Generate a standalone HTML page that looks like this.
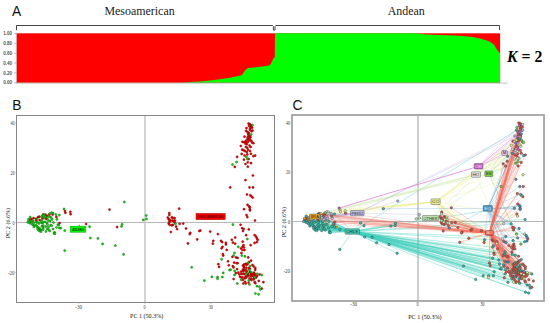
<!DOCTYPE html>
<html><head><meta charset="utf-8"><style>
html,body{margin:0;padding:0;background:#fff;width:550px;height:323px;overflow:hidden;font-family:"Liberation Sans",sans-serif;}
svg{display:block;}
</style></head><body>
<svg width="550" height="323" viewBox="0 0 550 323" font-family="Liberation Sans, sans-serif"><rect x="16.5" y="33.3" width="483.6" height="49.5" fill="#ff0000"/>
<polygon fill="#00ff00" points="176,82.8 185,82.5 190,82.1 200,81.5 210,80.5 220,79.3 230,77.7 238,76.1 242,75 243.5,72.5 246,69.5 248,68 256,67.2 268,65.8 270.5,64.6 272.3,61 273,59 274,57.5 274.8,57.5 275,33.3 414,33.3 427,34.4 440,35 454.5,35.6 465,36.3 472.7,37.1 480,38.5 487.3,40.7 489.8,41.7 491,42.5 494.5,45.3 495.2,47 498.4,51.4 500.1,53.6 500.1,82.8"/>
<line x1="16.3" y1="33" x2="16.3" y2="83" stroke="#c8c8c8" stroke-width="0.6"/>
<line x1="16" y1="83.1" x2="507.5" y2="83.1" stroke="#b0b0b0" stroke-width="0.8"/>
<line x1="14.2" y1="33.4" x2="16.5" y2="33.4" stroke="#888" stroke-width="0.6"/>
<text x="12.2" y="35" text-anchor="end" font-size="4.6" fill="#555" font-weight="bold">1.00</text>
<line x1="14.2" y1="43.3" x2="16.5" y2="43.3" stroke="#888" stroke-width="0.6"/>
<text x="12.2" y="44.9" text-anchor="end" font-size="4.6" fill="#555" font-weight="bold">0.80</text>
<line x1="14.2" y1="53.2" x2="16.5" y2="53.2" stroke="#888" stroke-width="0.6"/>
<text x="12.2" y="54.8" text-anchor="end" font-size="4.6" fill="#555" font-weight="bold">0.60</text>
<line x1="14.2" y1="63" x2="16.5" y2="63" stroke="#888" stroke-width="0.6"/>
<text x="12.2" y="64.6" text-anchor="end" font-size="4.6" fill="#555" font-weight="bold">0.40</text>
<line x1="14.2" y1="72.9" x2="16.5" y2="72.9" stroke="#888" stroke-width="0.6"/>
<text x="12.2" y="74.5" text-anchor="end" font-size="4.6" fill="#555" font-weight="bold">0.20</text>
<line x1="14.2" y1="82.8" x2="16.5" y2="82.8" stroke="#888" stroke-width="0.6"/>
<text x="12.2" y="84.4" text-anchor="end" font-size="4.6" fill="#555" font-weight="bold">0.00</text>
<path d="M16.5,30.2 V25.5 H272.6 L273.4,26.6 V30 Q274.2,30.8 275,30 V26.6 L275.8,25.5 H499.5 V30" fill="none" stroke="#3a3a3a" stroke-width="0.95"/>
<text x="104.4" y="15.2" font-family="Liberation Serif" font-size="11.95" fill="#222">Mesoamerican</text>
<text x="387.7" y="15.2" font-family="Liberation Serif" font-size="11.95" fill="#222">Andean</text>
<text x="507" y="61.8" font-family="Liberation Serif" font-size="15.8" font-weight="bold" fill="#000"><tspan font-style="italic">K</tspan> = 2</text>
<text x="12" y="15.5" font-size="13.8" fill="#111">A</text>
<text x="12.2" y="109.7" font-size="13.8" fill="#111">B</text>
<text x="292.6" y="109.9" font-size="13.8" fill="#111">C</text>
<line x1="16.5" y1="222.5" x2="274.5" y2="222.5" stroke="#b8b8b8" stroke-width="1.2"/>
<line x1="145" y1="115.5" x2="145" y2="302.5" stroke="#cacaca" stroke-width="1.6"/>
<rect x="16.5" y="115.5" width="258" height="187" fill="none" stroke="#858585" stroke-width="1"/>
<text x="78.7" y="308.9" text-anchor="middle" font-family="Liberation Serif" font-size="6.2" fill="#444" textLength="6.8" lengthAdjust="spacingAndGlyphs">-30</text>
<line x1="78.7" y1="302.5" x2="78.7" y2="303.8" stroke="#999" stroke-width="0.5"/>
<text x="144.6" y="308.9" text-anchor="middle" font-family="Liberation Serif" font-size="6.2" fill="#444" textLength="2.1" lengthAdjust="spacingAndGlyphs">0</text>
<line x1="144.6" y1="302.5" x2="144.6" y2="303.8" stroke="#999" stroke-width="0.5"/>
<text x="210.8" y="308.9" text-anchor="middle" font-family="Liberation Serif" font-size="6.2" fill="#444" textLength="4.2" lengthAdjust="spacingAndGlyphs">30</text>
<line x1="210.8" y1="302.5" x2="210.8" y2="303.8" stroke="#999" stroke-width="0.5"/>
<text x="14.6" y="125" text-anchor="end" font-family="Liberation Serif" font-size="6.2" fill="#444" textLength="4.1" lengthAdjust="spacingAndGlyphs">40</text>
<line x1="15.1" y1="122.9" x2="16.5" y2="122.9" stroke="#999" stroke-width="0.5"/>
<text x="14.6" y="174.9" text-anchor="end" font-family="Liberation Serif" font-size="6.2" fill="#444" textLength="4.1" lengthAdjust="spacingAndGlyphs">20</text>
<line x1="15.1" y1="172.8" x2="16.5" y2="172.8" stroke="#999" stroke-width="0.5"/>
<text x="14.6" y="224.7" text-anchor="end" font-family="Liberation Serif" font-size="6.2" fill="#444" textLength="2.1" lengthAdjust="spacingAndGlyphs">0</text>
<line x1="15.1" y1="222.6" x2="16.5" y2="222.6" stroke="#999" stroke-width="0.5"/>
<text x="14.6" y="274.7" text-anchor="end" font-family="Liberation Serif" font-size="6.2" fill="#444" textLength="6.7" lengthAdjust="spacingAndGlyphs">-20</text>
<line x1="15.1" y1="272.6" x2="16.5" y2="272.6" stroke="#999" stroke-width="0.5"/>
<text x="130" y="317.6" font-family="Liberation Serif" font-size="6.1" fill="#111">PC 1 (50.3%)</text>
<text transform="translate(10.3,223) rotate(-90)" text-anchor="middle" font-family="Liberation Serif" font-size="6.1" fill="#111">PC 2 (6.6%)</text>
<line x1="292" y1="221.5" x2="544" y2="221.5" stroke="#b8b8b8" stroke-width="1.1"/>
<line x1="418" y1="115" x2="418" y2="301" stroke="#cacaca" stroke-width="1.8"/>
<rect x="292" y="115" width="252" height="186" fill="none" stroke="#a4a4a4" stroke-width="1.8"/>
<text x="353.6" y="306.2" text-anchor="middle" font-family="Liberation Serif" font-size="6.2" fill="#444" textLength="6.8" lengthAdjust="spacingAndGlyphs">-30</text>
<line x1="353.6" y1="301" x2="353.6" y2="302.3" stroke="#999" stroke-width="0.5"/>
<text x="417.6" y="306.2" text-anchor="middle" font-family="Liberation Serif" font-size="6.2" fill="#444" textLength="2.1" lengthAdjust="spacingAndGlyphs">0</text>
<line x1="417.6" y1="301" x2="417.6" y2="302.3" stroke="#999" stroke-width="0.5"/>
<text x="482.3" y="306.2" text-anchor="middle" font-family="Liberation Serif" font-size="6.2" fill="#444" textLength="4.2" lengthAdjust="spacingAndGlyphs">30</text>
<line x1="482.3" y1="301" x2="482.3" y2="302.3" stroke="#999" stroke-width="0.5"/>
<text x="290.1" y="124.7" text-anchor="end" font-family="Liberation Serif" font-size="6.2" fill="#444" textLength="4.1" lengthAdjust="spacingAndGlyphs">40</text>
<line x1="290.6" y1="122.6" x2="292" y2="122.6" stroke="#999" stroke-width="0.5"/>
<text x="290.1" y="174.3" text-anchor="end" font-family="Liberation Serif" font-size="6.2" fill="#444" textLength="4.1" lengthAdjust="spacingAndGlyphs">20</text>
<line x1="290.6" y1="172.2" x2="292" y2="172.2" stroke="#999" stroke-width="0.5"/>
<text x="290.1" y="223.6" text-anchor="end" font-family="Liberation Serif" font-size="6.2" fill="#444" textLength="2.1" lengthAdjust="spacingAndGlyphs">0</text>
<line x1="290.6" y1="221.5" x2="292" y2="221.5" stroke="#999" stroke-width="0.5"/>
<text x="290.1" y="273.4" text-anchor="end" font-family="Liberation Serif" font-size="6.2" fill="#444" textLength="6.7" lengthAdjust="spacingAndGlyphs">-20</text>
<line x1="290.6" y1="271.3" x2="292" y2="271.3" stroke="#999" stroke-width="0.5"/>
<text x="408.2" y="319" font-family="Liberation Serif" font-size="6.1" fill="#111">PC 1 (50.3%)</text>
<text transform="translate(285.8,222) rotate(-90)" text-anchor="middle" font-family="Liberation Serif" font-size="6.1" fill="#111">PC 2 (6.6%)</text>
<g stroke-width="0.45">
<circle cx="29.8" cy="219.7" r="1.08" fill="#e40000" stroke="#880000"/>
<circle cx="31.5" cy="219.1" r="1.08" fill="#e40000" stroke="#880000"/>
<circle cx="35.8" cy="218.8" r="1.08" fill="#e40000" stroke="#880000"/>
<circle cx="36.3" cy="220.6" r="1.08" fill="#e40000" stroke="#880000"/>
<circle cx="38" cy="217.1" r="1.08" fill="#e40000" stroke="#880000"/>
<circle cx="39.3" cy="216.7" r="1.08" fill="#e40000" stroke="#880000"/>
<circle cx="39.7" cy="220.1" r="1.08" fill="#e40000" stroke="#880000"/>
<circle cx="43.2" cy="214.5" r="1.08" fill="#e40000" stroke="#880000"/>
<circle cx="42.7" cy="218.4" r="1.08" fill="#e40000" stroke="#880000"/>
<circle cx="45.4" cy="214.6" r="1.08" fill="#e40000" stroke="#880000"/>
<circle cx="46.3" cy="218.9" r="1.08" fill="#e40000" stroke="#880000"/>
<circle cx="49.2" cy="214.6" r="1.08" fill="#e40000" stroke="#880000"/>
<circle cx="52.6" cy="214.6" r="1.08" fill="#e40000" stroke="#880000"/>
<circle cx="56.4" cy="217" r="1.08" fill="#e40000" stroke="#880000"/>
<circle cx="59.6" cy="223.1" r="1.08" fill="#e40000" stroke="#880000"/>
<circle cx="65" cy="211" r="1.08" fill="#e40000" stroke="#880000"/>
<circle cx="65.4" cy="212.8" r="1.08" fill="#e40000" stroke="#880000"/>
<circle cx="70.3" cy="211.8" r="1.08" fill="#e40000" stroke="#880000"/>
<circle cx="70.6" cy="214.2" r="1.08" fill="#e40000" stroke="#880000"/>
<circle cx="47" cy="215.8" r="1.08" fill="#e40000" stroke="#880000"/>
<circle cx="33.5" cy="218.2" r="1.08" fill="#e40000" stroke="#880000"/>
<circle cx="109.5" cy="209.6" r="1.08" fill="#e40000" stroke="#880000"/>
<circle cx="86.1" cy="224" r="1.08" fill="#e40000" stroke="#880000"/>
<circle cx="117.1" cy="227.1" r="1.08" fill="#e40000" stroke="#880000"/>
<circle cx="179.2" cy="208.7" r="1.08" fill="#e40000" stroke="#880000"/>
<circle cx="169.3" cy="213" r="1.08" fill="#e40000" stroke="#880000"/>
<circle cx="169.3" cy="214.9" r="1.08" fill="#e40000" stroke="#880000"/>
<circle cx="168.7" cy="219.2" r="1.08" fill="#e40000" stroke="#880000"/>
<circle cx="169.9" cy="219.9" r="1.08" fill="#e40000" stroke="#880000"/>
<circle cx="169.3" cy="221.7" r="1.08" fill="#e40000" stroke="#880000"/>
<circle cx="168.7" cy="223.6" r="1.08" fill="#e40000" stroke="#880000"/>
<circle cx="169.7" cy="224.8" r="1.08" fill="#e40000" stroke="#880000"/>
<circle cx="171.8" cy="217.4" r="1.08" fill="#e40000" stroke="#880000"/>
<circle cx="173" cy="218" r="1.08" fill="#e40000" stroke="#880000"/>
<circle cx="172.4" cy="220.5" r="1.08" fill="#e40000" stroke="#880000"/>
<circle cx="173.6" cy="221.1" r="1.08" fill="#e40000" stroke="#880000"/>
<circle cx="174.6" cy="218" r="1.08" fill="#e40000" stroke="#880000"/>
<circle cx="174.9" cy="220.5" r="1.08" fill="#e40000" stroke="#880000"/>
<circle cx="174.6" cy="222.3" r="1.08" fill="#e40000" stroke="#880000"/>
<circle cx="171.8" cy="225.4" r="1.08" fill="#e40000" stroke="#880000"/>
<circle cx="173" cy="224.8" r="1.08" fill="#e40000" stroke="#880000"/>
<circle cx="176.1" cy="226.7" r="1.08" fill="#e40000" stroke="#880000"/>
<circle cx="177.1" cy="229.1" r="1.08" fill="#e40000" stroke="#880000"/>
<circle cx="179.6" cy="223.8" r="1.08" fill="#e40000" stroke="#880000"/>
<circle cx="183.2" cy="223.6" r="1.08" fill="#e40000" stroke="#880000"/>
<circle cx="170.9" cy="232" r="1.08" fill="#e40000" stroke="#880000"/>
<circle cx="186" cy="228.5" r="1.08" fill="#e40000" stroke="#880000"/>
<circle cx="190.3" cy="232.9" r="1.08" fill="#e40000" stroke="#880000"/>
<circle cx="189.7" cy="234.1" r="1.08" fill="#e40000" stroke="#880000"/>
<circle cx="197.2" cy="239.4" r="1.08" fill="#e40000" stroke="#880000"/>
<circle cx="187.9" cy="243.4" r="1.08" fill="#e40000" stroke="#880000"/>
<circle cx="199.4" cy="231" r="1.08" fill="#e40000" stroke="#880000"/>
<circle cx="170.5" cy="221" r="1.08" fill="#e40000" stroke="#880000"/>
<circle cx="167.8" cy="217.5" r="1.08" fill="#e40000" stroke="#880000"/>
<circle cx="248.5" cy="123.6" r="1.08" fill="#e40000" stroke="#880000"/>
<circle cx="249.7" cy="124" r="1.08" fill="#e40000" stroke="#880000"/>
<circle cx="250.9" cy="125.2" r="1.08" fill="#e40000" stroke="#880000"/>
<circle cx="251.3" cy="126.5" r="1.08" fill="#e40000" stroke="#880000"/>
<circle cx="250.5" cy="127.3" r="1.08" fill="#e40000" stroke="#880000"/>
<circle cx="246.5" cy="128.1" r="1.08" fill="#e40000" stroke="#880000"/>
<circle cx="252.1" cy="127.7" r="1.08" fill="#e40000" stroke="#880000"/>
<circle cx="250.1" cy="128.9" r="1.08" fill="#e40000" stroke="#880000"/>
<circle cx="246.1" cy="130.9" r="1.08" fill="#e40000" stroke="#880000"/>
<circle cx="252.5" cy="130.5" r="1.08" fill="#e40000" stroke="#880000"/>
<circle cx="251.7" cy="131.3" r="1.08" fill="#e40000" stroke="#880000"/>
<circle cx="248.9" cy="132.9" r="1.08" fill="#e40000" stroke="#880000"/>
<circle cx="248.1" cy="134.1" r="1.08" fill="#e40000" stroke="#880000"/>
<circle cx="249.7" cy="135.7" r="1.08" fill="#e40000" stroke="#880000"/>
<circle cx="248.5" cy="136.1" r="1.08" fill="#e40000" stroke="#880000"/>
<circle cx="250.5" cy="137.3" r="1.08" fill="#e40000" stroke="#880000"/>
<circle cx="249.3" cy="137.7" r="1.08" fill="#e40000" stroke="#880000"/>
<circle cx="247.7" cy="137.3" r="1.08" fill="#e40000" stroke="#880000"/>
<circle cx="244.5" cy="136.7" r="1.08" fill="#e40000" stroke="#880000"/>
<circle cx="247.3" cy="139.3" r="1.08" fill="#e40000" stroke="#880000"/>
<circle cx="248.9" cy="139.7" r="1.08" fill="#e40000" stroke="#880000"/>
<circle cx="250.1" cy="140.1" r="1.08" fill="#e40000" stroke="#880000"/>
<circle cx="251.3" cy="140.9" r="1.08" fill="#e40000" stroke="#880000"/>
<circle cx="242.4" cy="141.8" r="1.08" fill="#e40000" stroke="#880000"/>
<circle cx="244" cy="142.2" r="1.08" fill="#e40000" stroke="#880000"/>
<circle cx="246.1" cy="142.2" r="1.08" fill="#e40000" stroke="#880000"/>
<circle cx="248.1" cy="141.8" r="1.08" fill="#e40000" stroke="#880000"/>
<circle cx="252.1" cy="142.6" r="1.08" fill="#e40000" stroke="#880000"/>
<circle cx="245.9" cy="140.9" r="1.08" fill="#e40000" stroke="#880000"/>
<circle cx="253.4" cy="143.2" r="1.08" fill="#e40000" stroke="#880000"/>
<circle cx="245.5" cy="143.7" r="1.08" fill="#e40000" stroke="#880000"/>
<circle cx="246.9" cy="144.2" r="1.08" fill="#e40000" stroke="#880000"/>
<circle cx="240.8" cy="146" r="1.08" fill="#e40000" stroke="#880000"/>
<circle cx="245.9" cy="147" r="1.08" fill="#e40000" stroke="#880000"/>
<circle cx="247.3" cy="147.9" r="1.08" fill="#e40000" stroke="#880000"/>
<circle cx="250.6" cy="147" r="1.08" fill="#e40000" stroke="#880000"/>
<circle cx="242.2" cy="149.7" r="1.08" fill="#e40000" stroke="#880000"/>
<circle cx="243.6" cy="150.2" r="1.08" fill="#e40000" stroke="#880000"/>
<circle cx="245" cy="151.1" r="1.08" fill="#e40000" stroke="#880000"/>
<circle cx="246.9" cy="152.1" r="1.08" fill="#e40000" stroke="#880000"/>
<circle cx="250.1" cy="151.1" r="1.08" fill="#e40000" stroke="#880000"/>
<circle cx="241.7" cy="153.9" r="1.08" fill="#e40000" stroke="#880000"/>
<circle cx="247.3" cy="154.4" r="1.08" fill="#e40000" stroke="#880000"/>
<circle cx="251" cy="153.9" r="1.08" fill="#e40000" stroke="#880000"/>
<circle cx="253.4" cy="156.2" r="1.08" fill="#e40000" stroke="#880000"/>
<circle cx="255.2" cy="155.6" r="1.08" fill="#e40000" stroke="#880000"/>
<circle cx="237.1" cy="156.9" r="1.08" fill="#e40000" stroke="#880000"/>
<circle cx="248.7" cy="159" r="1.08" fill="#e40000" stroke="#880000"/>
<circle cx="243.9" cy="159.7" r="1.08" fill="#e40000" stroke="#880000"/>
<circle cx="247.8" cy="162.3" r="1.08" fill="#e40000" stroke="#880000"/>
<circle cx="251" cy="163.2" r="1.08" fill="#e40000" stroke="#880000"/>
<circle cx="245.5" cy="164" r="1.08" fill="#e40000" stroke="#880000"/>
<circle cx="234.8" cy="166.9" r="1.08" fill="#e40000" stroke="#880000"/>
<circle cx="247.8" cy="166.7" r="1.08" fill="#e40000" stroke="#880000"/>
<circle cx="252.9" cy="175.5" r="1.08" fill="#e40000" stroke="#880000"/>
<circle cx="245.5" cy="180.1" r="1.08" fill="#e40000" stroke="#880000"/>
<circle cx="230.2" cy="187.4" r="1.08" fill="#e40000" stroke="#880000"/>
<circle cx="249.5" cy="187.4" r="1.08" fill="#e40000" stroke="#880000"/>
<circle cx="253" cy="187.4" r="1.08" fill="#e40000" stroke="#880000"/>
<circle cx="247" cy="194.5" r="1.08" fill="#e40000" stroke="#880000"/>
<circle cx="250.3" cy="195.3" r="1.08" fill="#e40000" stroke="#880000"/>
<circle cx="251.3" cy="196.3" r="1.08" fill="#e40000" stroke="#880000"/>
<circle cx="252.7" cy="197.6" r="1.08" fill="#e40000" stroke="#880000"/>
<circle cx="247.5" cy="204.8" r="1.08" fill="#e40000" stroke="#880000"/>
<circle cx="249" cy="206.4" r="1.08" fill="#e40000" stroke="#880000"/>
<circle cx="249.8" cy="207.2" r="1.08" fill="#e40000" stroke="#880000"/>
<circle cx="244" cy="209.2" r="1.08" fill="#e40000" stroke="#880000"/>
<circle cx="249.8" cy="209.2" r="1.08" fill="#e40000" stroke="#880000"/>
<circle cx="249" cy="126" r="1.08" fill="#e40000" stroke="#880000"/>
<circle cx="247.5" cy="132" r="1.08" fill="#e40000" stroke="#880000"/>
<circle cx="250" cy="130" r="1.08" fill="#e40000" stroke="#880000"/>
<circle cx="249.5" cy="145.5" r="1.08" fill="#e40000" stroke="#880000"/>
<circle cx="248" cy="150" r="1.08" fill="#e40000" stroke="#880000"/>
<circle cx="244.5" cy="155.5" r="1.08" fill="#e40000" stroke="#880000"/>
<circle cx="249.9" cy="210.4" r="1.08" fill="#e40000" stroke="#880000"/>
<circle cx="246.5" cy="215" r="1.08" fill="#e40000" stroke="#880000"/>
<circle cx="247.3" cy="217.1" r="1.08" fill="#e40000" stroke="#880000"/>
<circle cx="255" cy="220.5" r="1.08" fill="#e40000" stroke="#880000"/>
<circle cx="240.6" cy="224.8" r="1.08" fill="#e40000" stroke="#880000"/>
<circle cx="242.2" cy="228.2" r="1.08" fill="#e40000" stroke="#880000"/>
<circle cx="243.7" cy="229" r="1.08" fill="#e40000" stroke="#880000"/>
<circle cx="243" cy="231" r="1.08" fill="#e40000" stroke="#880000"/>
<circle cx="248.8" cy="229.4" r="1.08" fill="#e40000" stroke="#880000"/>
<circle cx="200.4" cy="230.5" r="1.08" fill="#e40000" stroke="#880000"/>
<circle cx="210.2" cy="231.6" r="1.08" fill="#e40000" stroke="#880000"/>
<circle cx="217.9" cy="234.1" r="1.08" fill="#e40000" stroke="#880000"/>
<circle cx="246.1" cy="235.2" r="1.08" fill="#e40000" stroke="#880000"/>
<circle cx="254.6" cy="235.2" r="1.08" fill="#e40000" stroke="#880000"/>
<circle cx="256.1" cy="236.7" r="1.08" fill="#e40000" stroke="#880000"/>
<circle cx="256.9" cy="238.3" r="1.08" fill="#e40000" stroke="#880000"/>
<circle cx="257.7" cy="239.8" r="1.08" fill="#e40000" stroke="#880000"/>
<circle cx="235.2" cy="237.5" r="1.08" fill="#e40000" stroke="#880000"/>
<circle cx="213.3" cy="240.9" r="1.08" fill="#e40000" stroke="#880000"/>
<circle cx="212.8" cy="243.7" r="1.08" fill="#e40000" stroke="#880000"/>
<circle cx="221" cy="240.9" r="1.08" fill="#e40000" stroke="#880000"/>
<circle cx="222.1" cy="242.1" r="1.08" fill="#e40000" stroke="#880000"/>
<circle cx="225.9" cy="242.9" r="1.08" fill="#e40000" stroke="#880000"/>
<circle cx="225.9" cy="244.5" r="1.08" fill="#e40000" stroke="#880000"/>
<circle cx="231.8" cy="239.8" r="1.08" fill="#e40000" stroke="#880000"/>
<circle cx="232.9" cy="242.6" r="1.08" fill="#e40000" stroke="#880000"/>
<circle cx="235.2" cy="243.7" r="1.08" fill="#e40000" stroke="#880000"/>
<circle cx="242.7" cy="241.7" r="1.08" fill="#e40000" stroke="#880000"/>
<circle cx="254.6" cy="242.9" r="1.08" fill="#e40000" stroke="#880000"/>
<circle cx="256.9" cy="242.1" r="1.08" fill="#e40000" stroke="#880000"/>
<circle cx="250.7" cy="245.2" r="1.08" fill="#e40000" stroke="#880000"/>
<circle cx="243.5" cy="245.2" r="1.08" fill="#e40000" stroke="#880000"/>
<circle cx="242.5" cy="246.8" r="1.08" fill="#e40000" stroke="#880000"/>
<circle cx="244" cy="247.5" r="1.08" fill="#e40000" stroke="#880000"/>
<circle cx="241" cy="248.5" r="1.08" fill="#e40000" stroke="#880000"/>
<circle cx="242.5" cy="250" r="1.08" fill="#e40000" stroke="#880000"/>
<circle cx="244.5" cy="250" r="1.08" fill="#e40000" stroke="#880000"/>
<circle cx="222.5" cy="246.8" r="1.08" fill="#e40000" stroke="#880000"/>
<circle cx="221.6" cy="248.3" r="1.08" fill="#e40000" stroke="#880000"/>
<circle cx="226.7" cy="249.9" r="1.08" fill="#e40000" stroke="#880000"/>
<circle cx="222.9" cy="254.2" r="1.08" fill="#e40000" stroke="#880000"/>
<circle cx="241.4" cy="253" r="1.08" fill="#e40000" stroke="#880000"/>
<circle cx="223.2" cy="255.6" r="1.08" fill="#e40000" stroke="#880000"/>
<circle cx="228" cy="261.3" r="1.08" fill="#e40000" stroke="#880000"/>
<circle cx="218.3" cy="264.2" r="1.08" fill="#e40000" stroke="#880000"/>
<circle cx="219.1" cy="266.9" r="1.08" fill="#e40000" stroke="#880000"/>
<circle cx="228.8" cy="265.3" r="1.08" fill="#e40000" stroke="#880000"/>
<circle cx="233.6" cy="279" r="1.08" fill="#e40000" stroke="#880000"/>
<circle cx="243.3" cy="283.5" r="1.08" fill="#e40000" stroke="#880000"/>
<circle cx="245.7" cy="283.5" r="1.08" fill="#e40000" stroke="#880000"/>
<circle cx="261.8" cy="288.6" r="1.08" fill="#e40000" stroke="#880000"/>
<circle cx="263.4" cy="282.2" r="1.08" fill="#e40000" stroke="#880000"/>
<circle cx="232.4" cy="256.8" r="1.08" fill="#e40000" stroke="#880000"/>
<circle cx="235.9" cy="257.4" r="1.08" fill="#e40000" stroke="#880000"/>
<circle cx="237.6" cy="257.9" r="1.08" fill="#e40000" stroke="#880000"/>
<circle cx="248.2" cy="257.4" r="1.08" fill="#e40000" stroke="#880000"/>
<circle cx="234.1" cy="262.6" r="1.08" fill="#e40000" stroke="#880000"/>
<circle cx="236.5" cy="263.2" r="1.08" fill="#e40000" stroke="#880000"/>
<circle cx="237.6" cy="263.2" r="1.08" fill="#e40000" stroke="#880000"/>
<circle cx="232.9" cy="266.2" r="1.08" fill="#e40000" stroke="#880000"/>
<circle cx="233.5" cy="267.4" r="1.08" fill="#e40000" stroke="#880000"/>
<circle cx="237.1" cy="269.1" r="1.08" fill="#e40000" stroke="#880000"/>
<circle cx="242.9" cy="265.6" r="1.08" fill="#e40000" stroke="#880000"/>
<circle cx="244.1" cy="264.4" r="1.08" fill="#e40000" stroke="#880000"/>
<circle cx="245.9" cy="263.8" r="1.08" fill="#e40000" stroke="#880000"/>
<circle cx="255.3" cy="268" r="1.08" fill="#e40000" stroke="#880000"/>
<circle cx="235.9" cy="273.2" r="1.08" fill="#e40000" stroke="#880000"/>
<circle cx="238.2" cy="272.6" r="1.08" fill="#e40000" stroke="#880000"/>
<circle cx="239.4" cy="274.4" r="1.08" fill="#e40000" stroke="#880000"/>
<circle cx="240" cy="276.8" r="1.08" fill="#e40000" stroke="#880000"/>
<circle cx="254.7" cy="282.1" r="1.08" fill="#e40000" stroke="#880000"/>
<circle cx="255.3" cy="283.2" r="1.08" fill="#e40000" stroke="#880000"/>
<circle cx="258.8" cy="280.9" r="1.08" fill="#e40000" stroke="#880000"/>
<circle cx="248.2" cy="275.5" r="1.08" fill="#e40000" stroke="#880000"/>
<circle cx="246.7" cy="270.7" r="1.08" fill="#e40000" stroke="#880000"/>
<circle cx="243.2" cy="271.3" r="1.08" fill="#e40000" stroke="#880000"/>
<circle cx="255.1" cy="275" r="1.08" fill="#e40000" stroke="#880000"/>
<circle cx="254.4" cy="273.9" r="1.08" fill="#e40000" stroke="#880000"/>
<circle cx="250.9" cy="273.6" r="1.08" fill="#e40000" stroke="#880000"/>
<circle cx="241.6" cy="277.5" r="1.08" fill="#e40000" stroke="#880000"/>
<circle cx="252.1" cy="275.4" r="1.08" fill="#e40000" stroke="#880000"/>
<circle cx="242.9" cy="269.8" r="1.08" fill="#e40000" stroke="#880000"/>
<circle cx="250" cy="272.2" r="1.08" fill="#e40000" stroke="#880000"/>
<circle cx="249.9" cy="268.8" r="1.08" fill="#e40000" stroke="#880000"/>
<circle cx="250.9" cy="274.8" r="1.08" fill="#e40000" stroke="#880000"/>
<circle cx="248.5" cy="282.5" r="1.08" fill="#e40000" stroke="#880000"/>
<circle cx="253.8" cy="279.4" r="1.08" fill="#e40000" stroke="#880000"/>
<circle cx="243.8" cy="268.2" r="1.08" fill="#e40000" stroke="#880000"/>
<circle cx="246.5" cy="271.9" r="1.08" fill="#e40000" stroke="#880000"/>
<circle cx="252.3" cy="273.9" r="1.08" fill="#e40000" stroke="#880000"/>
<circle cx="244.2" cy="266.9" r="1.08" fill="#e40000" stroke="#880000"/>
<circle cx="244.8" cy="273.9" r="1.08" fill="#e40000" stroke="#880000"/>
<circle cx="247.7" cy="263.9" r="1.08" fill="#e40000" stroke="#880000"/>
<circle cx="251.4" cy="280.1" r="1.08" fill="#e40000" stroke="#880000"/>
<circle cx="246.3" cy="267.8" r="1.08" fill="#e40000" stroke="#880000"/>
<circle cx="242.6" cy="277.3" r="1.08" fill="#e40000" stroke="#880000"/>
<circle cx="253.9" cy="278" r="1.08" fill="#e40000" stroke="#880000"/>
<circle cx="246.5" cy="265" r="1.08" fill="#e40000" stroke="#880000"/>
<circle cx="251.1" cy="260.7" r="1.08" fill="#e40000" stroke="#880000"/>
<circle cx="241.4" cy="273.9" r="1.08" fill="#e40000" stroke="#880000"/>
<circle cx="257.2" cy="275.9" r="1.08" fill="#e40000" stroke="#880000"/>
<circle cx="248.9" cy="268.2" r="1.08" fill="#e40000" stroke="#880000"/>
<circle cx="244.7" cy="278.2" r="1.08" fill="#e40000" stroke="#880000"/>
<circle cx="242.9" cy="279.9" r="1.08" fill="#e40000" stroke="#880000"/>
<circle cx="249.2" cy="262" r="1.08" fill="#e40000" stroke="#880000"/>
<circle cx="249.6" cy="278.4" r="1.08" fill="#e40000" stroke="#880000"/>
<circle cx="245" cy="281.8" r="1.08" fill="#e40000" stroke="#880000"/>
<circle cx="251.5" cy="276.3" r="1.08" fill="#e40000" stroke="#880000"/>
<circle cx="251.5" cy="279.1" r="1.08" fill="#e40000" stroke="#880000"/>
<circle cx="244.2" cy="270.1" r="1.08" fill="#e40000" stroke="#880000"/>
<circle cx="254" cy="272.7" r="1.08" fill="#e40000" stroke="#880000"/>
<circle cx="245.8" cy="278" r="1.08" fill="#e40000" stroke="#880000"/>
<circle cx="255.2" cy="269.9" r="1.08" fill="#e40000" stroke="#880000"/>
<circle cx="241.1" cy="271.7" r="1.08" fill="#e40000" stroke="#880000"/>
<circle cx="253.7" cy="266.5" r="1.08" fill="#e40000" stroke="#880000"/>
<circle cx="252.5" cy="265.1" r="1.08" fill="#e40000" stroke="#880000"/>
<circle cx="245.7" cy="276.2" r="1.08" fill="#e40000" stroke="#880000"/>
<circle cx="256.1" cy="277.5" r="1.08" fill="#e40000" stroke="#880000"/>
<circle cx="250.5" cy="275.8" r="1.08" fill="#e40000" stroke="#880000"/>
<circle cx="248.1" cy="274.1" r="1.08" fill="#e40000" stroke="#880000"/>
<circle cx="253.6" cy="275.8" r="1.08" fill="#e40000" stroke="#880000"/>
<circle cx="259.6" cy="274.4" r="1.08" fill="#e40000" stroke="#880000"/>
<circle cx="245.5" cy="270.3" r="1.08" fill="#e40000" stroke="#880000"/>
<circle cx="243.2" cy="273.9" r="1.08" fill="#e40000" stroke="#880000"/>
<circle cx="247.6" cy="276.3" r="1.08" fill="#e40000" stroke="#880000"/>
<circle cx="30.2" cy="217.1" r="1.08" fill="#0ad80a" stroke="#0a600a"/>
<circle cx="28.6" cy="219.3" r="1.08" fill="#0ad80a" stroke="#0a600a"/>
<circle cx="28.5" cy="221" r="1.08" fill="#0ad80a" stroke="#0a600a"/>
<circle cx="30.6" cy="221.9" r="1.08" fill="#0ad80a" stroke="#0a600a"/>
<circle cx="31.9" cy="221" r="1.08" fill="#0ad80a" stroke="#0a600a"/>
<circle cx="29.8" cy="223.2" r="1.08" fill="#0ad80a" stroke="#0a600a"/>
<circle cx="31.5" cy="223.6" r="1.08" fill="#0ad80a" stroke="#0a600a"/>
<circle cx="33.2" cy="221" r="1.08" fill="#0ad80a" stroke="#0a600a"/>
<circle cx="33.7" cy="222.7" r="1.08" fill="#0ad80a" stroke="#0a600a"/>
<circle cx="32.8" cy="224.9" r="1.08" fill="#0ad80a" stroke="#0a600a"/>
<circle cx="34.5" cy="225.3" r="1.08" fill="#0ad80a" stroke="#0a600a"/>
<circle cx="36.3" cy="222.3" r="1.08" fill="#0ad80a" stroke="#0a600a"/>
<circle cx="37.6" cy="222.3" r="1.08" fill="#0ad80a" stroke="#0a600a"/>
<circle cx="37.1" cy="218.8" r="1.08" fill="#0ad80a" stroke="#0a600a"/>
<circle cx="41.5" cy="216.7" r="1.08" fill="#0ad80a" stroke="#0a600a"/>
<circle cx="42.7" cy="215.4" r="1.08" fill="#0ad80a" stroke="#0a600a"/>
<circle cx="44.5" cy="214.9" r="1.08" fill="#0ad80a" stroke="#0a600a"/>
<circle cx="41.9" cy="220.1" r="1.08" fill="#0ad80a" stroke="#0a600a"/>
<circle cx="41" cy="222.3" r="1.08" fill="#0ad80a" stroke="#0a600a"/>
<circle cx="42.3" cy="223.2" r="1.08" fill="#0ad80a" stroke="#0a600a"/>
<circle cx="36.3" cy="225.3" r="1.08" fill="#0ad80a" stroke="#0a600a"/>
<circle cx="37.1" cy="226.6" r="1.08" fill="#0ad80a" stroke="#0a600a"/>
<circle cx="38.4" cy="227.5" r="1.08" fill="#0ad80a" stroke="#0a600a"/>
<circle cx="39.3" cy="228.3" r="1.08" fill="#0ad80a" stroke="#0a600a"/>
<circle cx="40.2" cy="229.2" r="1.08" fill="#0ad80a" stroke="#0a600a"/>
<circle cx="41" cy="230.1" r="1.08" fill="#0ad80a" stroke="#0a600a"/>
<circle cx="38.4" cy="230.1" r="1.08" fill="#0ad80a" stroke="#0a600a"/>
<circle cx="39.7" cy="231" r="1.08" fill="#0ad80a" stroke="#0a600a"/>
<circle cx="41" cy="231.6" r="1.08" fill="#0ad80a" stroke="#0a600a"/>
<circle cx="37.6" cy="228.8" r="1.08" fill="#0ad80a" stroke="#0a600a"/>
<circle cx="43.2" cy="227.9" r="1.08" fill="#0ad80a" stroke="#0a600a"/>
<circle cx="43.2" cy="229.6" r="1.08" fill="#0ad80a" stroke="#0a600a"/>
<circle cx="41.9" cy="226.2" r="1.08" fill="#0ad80a" stroke="#0a600a"/>
<circle cx="43.9" cy="215.6" r="1.08" fill="#0ad80a" stroke="#0a600a"/>
<circle cx="45.8" cy="217" r="1.08" fill="#0ad80a" stroke="#0a600a"/>
<circle cx="44.4" cy="218" r="1.08" fill="#0ad80a" stroke="#0a600a"/>
<circle cx="47.8" cy="217.5" r="1.08" fill="#0ad80a" stroke="#0a600a"/>
<circle cx="49.7" cy="216.5" r="1.08" fill="#0ad80a" stroke="#0a600a"/>
<circle cx="49.7" cy="213.7" r="1.08" fill="#0ad80a" stroke="#0a600a"/>
<circle cx="51.6" cy="212.7" r="1.08" fill="#0ad80a" stroke="#0a600a"/>
<circle cx="53.1" cy="213.2" r="1.08" fill="#0ad80a" stroke="#0a600a"/>
<circle cx="51.1" cy="217.5" r="1.08" fill="#0ad80a" stroke="#0a600a"/>
<circle cx="52.1" cy="219.4" r="1.08" fill="#0ad80a" stroke="#0a600a"/>
<circle cx="48.3" cy="220.4" r="1.08" fill="#0ad80a" stroke="#0a600a"/>
<circle cx="50.2" cy="220.9" r="1.08" fill="#0ad80a" stroke="#0a600a"/>
<circle cx="55.9" cy="214.6" r="1.08" fill="#0ad80a" stroke="#0a600a"/>
<circle cx="59.3" cy="215.1" r="1.08" fill="#0ad80a" stroke="#0a600a"/>
<circle cx="56.9" cy="219.4" r="1.08" fill="#0ad80a" stroke="#0a600a"/>
<circle cx="43" cy="222.3" r="1.08" fill="#0ad80a" stroke="#0a600a"/>
<circle cx="44.9" cy="221.8" r="1.08" fill="#0ad80a" stroke="#0a600a"/>
<circle cx="46.8" cy="222.8" r="1.08" fill="#0ad80a" stroke="#0a600a"/>
<circle cx="57.9" cy="224.7" r="1.08" fill="#0ad80a" stroke="#0a600a"/>
<circle cx="58.8" cy="225.2" r="1.08" fill="#0ad80a" stroke="#0a600a"/>
<circle cx="50.7" cy="225.2" r="1.08" fill="#0ad80a" stroke="#0a600a"/>
<circle cx="51.6" cy="225.7" r="1.08" fill="#0ad80a" stroke="#0a600a"/>
<circle cx="43.4" cy="225.7" r="1.08" fill="#0ad80a" stroke="#0a600a"/>
<circle cx="45.8" cy="226.6" r="1.08" fill="#0ad80a" stroke="#0a600a"/>
<circle cx="47.3" cy="229" r="1.08" fill="#0ad80a" stroke="#0a600a"/>
<circle cx="48.7" cy="229.5" r="1.08" fill="#0ad80a" stroke="#0a600a"/>
<circle cx="49.7" cy="231" r="1.08" fill="#0ad80a" stroke="#0a600a"/>
<circle cx="53.1" cy="229" r="1.08" fill="#0ad80a" stroke="#0a600a"/>
<circle cx="59.3" cy="228.1" r="1.08" fill="#0ad80a" stroke="#0a600a"/>
<circle cx="60.8" cy="228.1" r="1.08" fill="#0ad80a" stroke="#0a600a"/>
<circle cx="54.5" cy="232.4" r="1.08" fill="#0ad80a" stroke="#0a600a"/>
<circle cx="54" cy="233.4" r="1.08" fill="#0ad80a" stroke="#0a600a"/>
<circle cx="64" cy="209" r="1.08" fill="#0ad80a" stroke="#0a600a"/>
<circle cx="64.7" cy="230.6" r="1.08" fill="#0ad80a" stroke="#0a600a"/>
<circle cx="55" cy="233.6" r="1.08" fill="#0ad80a" stroke="#0a600a"/>
<circle cx="39" cy="223.5" r="1.08" fill="#0ad80a" stroke="#0a600a"/>
<circle cx="47.5" cy="224.5" r="1.08" fill="#0ad80a" stroke="#0a600a"/>
<circle cx="53.5" cy="222.5" r="1.08" fill="#0ad80a" stroke="#0a600a"/>
<circle cx="48.5" cy="226.8" r="1.08" fill="#0ad80a" stroke="#0a600a"/>
<circle cx="46" cy="231.5" r="1.08" fill="#0ad80a" stroke="#0a600a"/>
<circle cx="56.5" cy="227.5" r="1.08" fill="#0ad80a" stroke="#0a600a"/>
<circle cx="34" cy="227" r="1.08" fill="#0ad80a" stroke="#0a600a"/>
<circle cx="27.8" cy="222.4" r="1.08" fill="#0ad80a" stroke="#0a600a"/>
<circle cx="64.7" cy="250.6" r="1.08" fill="#0ad80a" stroke="#0a600a"/>
<circle cx="191.7" cy="267.3" r="1.08" fill="#0ad80a" stroke="#0a600a"/>
<circle cx="124.3" cy="202" r="1.08" fill="#0ad80a" stroke="#0a600a"/>
<circle cx="89.6" cy="226.7" r="1.08" fill="#0ad80a" stroke="#0a600a"/>
<circle cx="121.5" cy="226.4" r="1.08" fill="#0ad80a" stroke="#0a600a"/>
<circle cx="122.1" cy="224.3" r="1.08" fill="#0ad80a" stroke="#0a600a"/>
<circle cx="143.3" cy="219.9" r="1.08" fill="#0ad80a" stroke="#0a600a"/>
<circle cx="146.3" cy="215.5" r="1.08" fill="#0ad80a" stroke="#0a600a"/>
<circle cx="146.5" cy="219" r="1.08" fill="#0ad80a" stroke="#0a600a"/>
<circle cx="90.3" cy="238" r="1.08" fill="#0ad80a" stroke="#0a600a"/>
<circle cx="97.9" cy="238.4" r="1.08" fill="#0ad80a" stroke="#0a600a"/>
<circle cx="102.5" cy="243.9" r="1.08" fill="#0ad80a" stroke="#0a600a"/>
<circle cx="115.3" cy="245.6" r="1.08" fill="#0ad80a" stroke="#0a600a"/>
<circle cx="123.6" cy="254.4" r="1.08" fill="#0ad80a" stroke="#0a600a"/>
<circle cx="175.5" cy="223.8" r="1.08" fill="#0ad80a" stroke="#0a600a"/>
<circle cx="232.9" cy="224.6" r="1.08" fill="#0ad80a" stroke="#0a600a"/>
<circle cx="252.5" cy="125.1" r="1.08" fill="#0ad80a" stroke="#0a600a"/>
<circle cx="251.1" cy="134.5" r="1.08" fill="#0ad80a" stroke="#0a600a"/>
<circle cx="246.4" cy="156.9" r="1.08" fill="#0ad80a" stroke="#0a600a"/>
<circle cx="247.3" cy="159" r="1.08" fill="#0ad80a" stroke="#0a600a"/>
<circle cx="236.6" cy="162" r="1.08" fill="#0ad80a" stroke="#0a600a"/>
<circle cx="232.5" cy="164.6" r="1.08" fill="#0ad80a" stroke="#0a600a"/>
<circle cx="247.3" cy="239" r="1.08" fill="#0ad80a" stroke="#0a600a"/>
<circle cx="238.3" cy="246.8" r="1.08" fill="#0ad80a" stroke="#0a600a"/>
<circle cx="234.5" cy="253" r="1.08" fill="#0ad80a" stroke="#0a600a"/>
<circle cx="221.6" cy="259.3" r="1.08" fill="#0ad80a" stroke="#0a600a"/>
<circle cx="229.6" cy="270.1" r="1.08" fill="#0ad80a" stroke="#0a600a"/>
<circle cx="223.2" cy="272.9" r="1.08" fill="#0ad80a" stroke="#0a600a"/>
<circle cx="211.9" cy="276.9" r="1.08" fill="#0ad80a" stroke="#0a600a"/>
<circle cx="217.5" cy="277" r="1.08" fill="#0ad80a" stroke="#0a600a"/>
<circle cx="217.5" cy="278.7" r="1.08" fill="#0ad80a" stroke="#0a600a"/>
<circle cx="222.4" cy="277" r="1.08" fill="#0ad80a" stroke="#0a600a"/>
<circle cx="204.3" cy="280.6" r="1.08" fill="#0ad80a" stroke="#0a600a"/>
<circle cx="237.3" cy="283.5" r="1.08" fill="#0ad80a" stroke="#0a600a"/>
<circle cx="234.4" cy="275" r="1.08" fill="#0ad80a" stroke="#0a600a"/>
<circle cx="248.1" cy="262.9" r="1.08" fill="#0ad80a" stroke="#0a600a"/>
<circle cx="244.9" cy="256.4" r="1.08" fill="#0ad80a" stroke="#0a600a"/>
<circle cx="255.4" cy="293.5" r="1.08" fill="#0ad80a" stroke="#0a600a"/>
<circle cx="258.6" cy="294.3" r="1.08" fill="#0ad80a" stroke="#0a600a"/>
<circle cx="257" cy="286.2" r="1.08" fill="#0ad80a" stroke="#0a600a"/>
<circle cx="259.4" cy="286.7" r="1.08" fill="#0ad80a" stroke="#0a600a"/>
<circle cx="260.2" cy="289.4" r="1.08" fill="#0ad80a" stroke="#0a600a"/>
<circle cx="233.5" cy="255.6" r="1.08" fill="#0ad80a" stroke="#0a600a"/>
<circle cx="241.8" cy="255.6" r="1.08" fill="#0ad80a" stroke="#0a600a"/>
<circle cx="250" cy="266.2" r="1.08" fill="#0ad80a" stroke="#0a600a"/>
<circle cx="230.6" cy="269.7" r="1.08" fill="#0ad80a" stroke="#0a600a"/>
<circle cx="234.7" cy="270.9" r="1.08" fill="#0ad80a" stroke="#0a600a"/>
<circle cx="251.2" cy="272.1" r="1.08" fill="#0ad80a" stroke="#0a600a"/>
<circle cx="245.9" cy="274.4" r="1.08" fill="#0ad80a" stroke="#0a600a"/>
<circle cx="241.2" cy="279.7" r="1.08" fill="#0ad80a" stroke="#0a600a"/>
<circle cx="257.1" cy="273.8" r="1.08" fill="#0ad80a" stroke="#0a600a"/>
<circle cx="254.7" cy="277.4" r="1.08" fill="#0ad80a" stroke="#0a600a"/>
<circle cx="248.8" cy="280.3" r="1.08" fill="#0ad80a" stroke="#0a600a"/>
<circle cx="249.4" cy="284.4" r="1.08" fill="#0ad80a" stroke="#0a600a"/>
<circle cx="249.3" cy="269.9" r="1.08" fill="#0ad80a" stroke="#0a600a"/>
<circle cx="261.9" cy="275.1" r="1.08" fill="#0ad80a" stroke="#0a600a"/>
<circle cx="247.7" cy="272.6" r="1.08" fill="#0ad80a" stroke="#0a600a"/>
</g>
<rect x="70.1" y="226.1" width="15.8" height="6.2" fill="#06f006" stroke="#0a9a0a" stroke-width="0.4"/>
<path d="M78.3,226.3 L79.3,224.2 L80.3,226.3 Z" fill="#06f006"/>
<text x="78" y="230.9" text-anchor="middle" font-size="3.6" fill="#064006" textLength="12">ANDEAN</text>
<rect x="196" y="213.4" width="29.2" height="6.3" fill="#f00000" stroke="#a00000" stroke-width="0.4"/>
<text x="210.6" y="218.1" text-anchor="middle" font-size="3.8" fill="#600000" textLength="25">MESOAMERICAN</text>
<path d="M352.3,231.5L306.2,216.1M352.3,231.5L306.6,220.9M352.3,231.5L305.8,222.2M352.3,231.5L307.4,222.6M352.3,231.5L309.6,221.7M352.3,231.5L308.7,223.9M352.3,231.5L310.4,224.3M352.3,231.5L312.1,221.3M352.3,231.5L313.4,221.3M352.3,231.5L318.3,214.4M352.3,231.5L316.7,221.3M352.3,231.5L318,222.2M352.3,231.5L312.1,224.3M352.3,231.5L312.9,225.6M352.3,231.5L314.2,226.5M352.3,231.5L315,227.3M352.3,231.5L315.9,228.2M352.3,231.5L316.7,229.1M352.3,231.5L314.2,229.1M352.3,231.5L315.4,230M352.3,231.5L316.7,230.6M352.3,231.5L313.4,227.8M352.3,231.5L318.8,226.9M352.3,231.5L318.8,228.6M352.3,231.5L317.6,225.2M352.3,231.5L320,217M352.3,231.5L325.7,219.9M352.3,231.5L334.5,214.1M352.3,231.5L320.5,220.8M352.3,231.5L322.3,221.8M352.3,231.5L333.2,223.7M352.3,231.5L326.1,224.2M352.3,231.5L319,224.7M352.3,231.5L321.4,225.6M352.3,231.5L322.8,228M352.3,231.5L324.2,228.5M352.3,231.5L325.2,230M352.3,231.5L328.5,228M352.3,231.5L334.5,227.1M352.3,231.5L329.8,231.4M352.3,231.5L329.4,232.4M352.3,231.5L339.8,229.6M352.3,231.5L330.3,232.6M352.3,231.5L314.7,222.5M352.3,231.5L323,223.5M352.3,231.5L328.9,221.5M352.3,231.5L324,225.8M352.3,231.5L321.6,230.5M352.3,231.5L331.8,226.5M352.3,231.5L309.9,226M352.3,231.5L303.8,221.4M352.3,231.5L339.8,249.5M352.3,231.5L463.5,266.1M352.3,231.5L364,225.7M352.3,231.5L395.1,225.4M352.3,231.5L395.7,223.3M352.3,231.5L364.7,236.9M352.3,231.5L372.1,237.3M352.3,231.5L376.6,242.8M352.3,231.5L389.1,244.5M352.3,231.5L397.1,253.3M352.3,231.5L360.6,223M352.3,231.5L390.8,226.1M352.3,231.5L516.5,130.3M352.3,231.5L519.3,205.5M352.3,231.5L517.6,237.9M352.3,231.5L505.2,251.9M352.3,231.5L525.1,219.5M352.3,231.5L511.1,223.8M352.3,231.5L524.7,241.8M352.3,231.5L492.6,247.2M352.3,231.5L492.6,258.2M352.3,231.5L500.4,268.9M352.3,231.5L494.2,271.7M352.3,231.5L483.2,275.7M352.3,231.5L488.6,275.8M352.3,231.5L493.4,275.8M352.3,231.5L475.7,279.4M352.3,231.5L507.9,282.3M352.3,231.5L505.1,273.8M352.3,231.5L518.4,261.7M352.3,231.5L515.3,255.3M352.3,231.5L525.5,292.2M352.3,231.5L528.6,293M352.3,231.5L527.1,284.9M352.3,231.5L529.4,285.4M352.3,231.5L530.2,288.1M352.3,231.5L504.2,254.5M352.3,231.5L512.3,254.5M352.3,231.5L520.3,265M352.3,231.5L501.4,268.5M352.3,231.5L505.4,269.7M352.3,231.5L521.4,270.9M352.3,231.5L516.3,273.2M352.3,231.5L511.7,278.5M352.3,231.5L524.8,276.2M352.3,231.5L519.1,279.1M352.3,231.5L519.7,283.2M352.3,231.5L498.8,260.1M352.3,231.5L499.6,264.1M352.3,231.5L507.1,262M352.3,231.5L514.5,263.2M352.3,231.5L516.3,262.6M352.3,231.5L520.3,271M352.3,231.5L516.6,266.6M352.3,231.5L521.3,259.6M352.3,231.5L511.9,272.7M352.3,231.5L519.2,267M352.3,231.5L519.6,268.7M352.3,231.5L531.8,273.9M352.3,231.5L518.1,271.4" stroke="#44d0bc" stroke-width="0.55" stroke-opacity="0.7" fill="none"/>
<path d="M476,174.5L327,211.7M476,174.5L328.5,212.2M476,174.5L312.1,219.6M476,174.5L328,213.6M476,174.5L512.7,149M476,174.5L517.2,151.4M476,174.5L514.3,159M476,174.5L502.5,238.7" stroke="#cfe6a8" stroke-width="0.55" stroke-opacity="0.55" fill="none"/>
<path d="M488.8,173.7L325.2,212.7M488.8,173.7L516.9,127.5M488.8,173.7L521.5,140.2M488.8,173.7L522.3,141.9M488.8,173.7L523.6,142.5M488.8,173.7L518.1,161.5M488.8,173.7L515.9,163.2M488.8,173.7L501,186.5M488.8,173.7L521.5,195.4M488.8,173.7L516.5,234.1M488.8,173.7L520.9,244.1" stroke="#a8dc78" stroke-width="0.55" stroke-opacity="0.55" fill="none"/>
<path d="M435.6,201.7L313.8,216.1M435.6,201.7L315.4,219.1M435.6,201.7L321,213.6M435.6,201.7L340.1,210M435.6,201.7L340.5,211.8M435.6,201.7L345.2,210.8M435.6,201.7L444.7,219.5M435.6,201.7L446.8,217M435.6,201.7L517.6,158.3M435.6,201.7L519.6,137M435.6,201.7L516.3,140.2M435.6,201.7L511.3,145.3M435.6,201.7L520.8,146.3M435.6,201.7L523.1,174.7M435.6,201.7L519.8,144.8M435.6,201.7L517.6,216.1M435.6,201.7L489,233.1M435.6,201.7L496.8,243.4M435.6,201.7L488.6,277.5M435.6,201.7L527.2,272.6M435.6,201.7L513.7,282.3M435.6,201.7L521.1,273.6M435.6,201.7L524,278.2M435.6,201.7L523.8,274.6M435.6,201.7L529.6,273.2" stroke="#e8e860" stroke-width="0.55" stroke-opacity="0.45" fill="none"/>
<path d="M430.5,218.1L416.3,218.9M430.5,218.1L419.5,218M430.5,218.1L447.7,222.8M430.5,218.1L503.6,223.6M430.5,218.1L441.7,213.9M430.5,218.1L441.7,220.7M430.5,218.1L447.1,219.5M430.5,218.1L514.4,141.5M430.5,218.1L519,158.3M430.5,218.1L524.7,234.1" stroke="#b4dc9c" stroke-width="0.55" stroke-opacity="0.55" fill="none"/>
<path d="M357.3,213.2L312.9,217.8M357.3,213.2L317.2,215.7M357.3,213.2L321.4,216M357.3,213.2L326.5,216.5M357.3,213.2L327.5,218.4M357.3,213.2L323.8,219.4M357.3,213.2L331.2,213.6M357.3,213.2L332.2,218.4M357.3,213.2L321.9,217.9M357.3,213.2L309.4,217.2M357.3,213.2L397.8,201.1M357.3,213.2L419.3,214.5M357.3,213.2L522.7,129.9M357.3,213.2L514.9,136" stroke="#b4a8e0" stroke-width="0.55" stroke-opacity="0.55" fill="none"/>
<path d="M504.6,153L522.7,124.5M504.6,153L517.2,143.5M504.6,153L515.4,150.4" stroke="#e8b0dc" stroke-width="0.55" stroke-opacity="0.55" fill="none"/>
<path d="M478.6,166.3L339.1,208.1" stroke="#dc60cc" stroke-width="0.75" stroke-opacity="0.85" fill="none"/>
<path d="M478.6,166.3L521.9,130.7M478.6,166.3L519.2,132.3M478.6,166.3L518,136.6M478.6,166.3L515.9,143M478.6,166.3L517.6,147.2M478.6,166.3L519.3,125.4M478.6,166.3L518.3,149.3" stroke="#d458d4" stroke-width="0.55" stroke-opacity="0.4" fill="none"/>
<path d="M487.8,208.4L383.4,208.7M487.8,208.4L449.3,228.1M487.8,208.4L521.3,133.9M487.8,208.4L519.2,139M487.8,208.4L512.2,153.2M487.8,208.4L523.6,155.5M487.8,208.4L507.7,156.2M487.8,208.4L515.9,179.3M487.8,208.4L519.8,186.5M487.8,208.4L520.6,194.4M487.8,208.4L520.1,206.3M487.8,208.4L514.4,208.3M487.8,208.4L520.2,209.4M487.8,208.4L519.1,228.4M487.8,208.4L526.2,235.6M487.8,208.4L527,237.2M487.8,208.4L505.8,236.4M487.8,208.4L484.5,239.8M487.8,208.4L505.8,242.6M487.8,208.4L513.1,240.6M487.8,208.4L527,241M487.8,208.4L493.5,245.7M487.8,208.4L508.2,262M487.8,208.4L503.6,265M487.8,208.4L515.1,276.9M487.8,208.4L524.1,271.5" stroke="#5aa8d8" stroke-width="0.55" stroke-opacity="0.55" fill="none"/>
<path d="M314.8,216.5L304.6,218.3M314.8,216.5L307.8,220M314.8,216.5L309.1,220M314.8,216.5L319.5,214.6M314.8,216.5L327,224.7M314.8,216.5L336,227.1" stroke="#f5a524" stroke-width="0.55" stroke-opacity="0.55" fill="none"/>
<path d="M489.5,233L304.5,220M489.5,233L320.1,213.9M489.5,233L317.6,219.1M489.5,233L323.3,216.5M489.5,233L325.2,215.5M489.5,233L318.6,221.3M489.5,233L334,224.2M489.5,233L305.8,218.7M489.5,233L307.4,218.1M489.5,233L311.6,217.8M489.5,233L315,215.7M489.5,233L318.8,213.5M489.5,233L318.3,217.4M489.5,233L324.7,213.6M489.5,233L331.7,216M489.5,233L334.8,222.1M489.5,233L345.5,213.2M489.5,233L322.5,214.8" stroke="#f46a5a" stroke-width="0.55" stroke-opacity="0.42" fill="none"/>
<path d="M489.5,233L451.3,207.8M489.5,233L441.7,212M489.5,233L441.1,218.2M489.5,233L442.2,218.9M489.5,233L441.1,222.6M489.5,233L442,223.8M489.5,233L444.1,216.4M489.5,233L445.3,217M489.5,233L445.8,220.1M489.5,233L446.8,221.3M489.5,233L444.1,224.4M489.5,233L445.3,223.8M489.5,233L448.3,225.7M489.5,233L451.7,222.8M489.5,233L455.2,222.6M489.5,233L443.2,231M489.5,233L457.9,227.5M489.5,233L462.1,231.9M489.5,233L461.5,233.1M489.5,233L468.8,238.3M489.5,233L459.8,242.3M489.5,233L471,230M489.5,233L442.8,220M489.5,233L440.2,216.5M489.5,233L516.8,156.2M489.5,233L507.2,161.2M489.5,233L503.2,163.8M489.5,233L518.8,123M489.5,233L520,123.4M489.5,233L521.1,124.6M489.5,233L521.5,125.9M489.5,233L520.7,126.7M489.5,233L522.3,127.1M489.5,233L520.4,128.3M489.5,233L518.4,133.5M489.5,233L520,135M489.5,233L518.8,135.4M489.5,233L520.7,136.6M489.5,233L517.6,138.6M489.5,233L520.4,139.4M489.5,233L512.9,141.1M489.5,233L516.5,141.5M489.5,233L518.4,141.1M489.5,233L516.3,146.3M489.5,233L514,149.5M489.5,233L520.4,150.4M489.5,233L517.6,153.7M489.5,233L521.2,153.2M489.5,233L525.3,154.9M489.5,233L521.2,162.4M489.5,233L505.5,166.1M489.5,233L518.1,165.9M489.5,233L523.2,186.5M489.5,233L517.3,193.6M489.5,233L522.9,196.7M489.5,233L517.8,203.9M489.5,233L520.1,208.3M489.5,233L517.8,131.4M489.5,233L520.3,129.4M489.5,233L514.9,154.8M489.5,233L508.9,245.7M489.5,233L516.9,214M489.5,233L512.7,227.2M489.5,233L514.1,228M489.5,233L513.4,230M489.5,233L471.9,229.5M489.5,233L481.5,230.6M489.5,233L527.8,238.7M489.5,233L484,242.6M489.5,233L492,239.8M489.5,233L493.1,241M489.5,233L496.8,241.8M489.5,233L503.6,241.5M489.5,233L513.9,244.1M489.5,233L513,245.7M489.5,233L514.4,246.4M489.5,233L511.5,247.4M489.5,233L513,248.9M489.5,233L514.9,248.9M489.5,233L497.6,248.8M489.5,233L493.9,253.1M489.5,233L511.9,251.9M489.5,233L494.2,254.5M489.5,233L489.4,263M489.5,233L490.2,265.7M489.5,233L504.3,277.8M489.5,233L516.1,282.3M489.5,233L531.8,287.3M489.5,233L533.3,281M489.5,233L503.1,255.7M489.5,233L506.5,256.3M489.5,233L508.2,256.8M489.5,233L518.5,256.3M489.5,233L504.8,261.4M489.5,233L504.2,266.2M489.5,233L507.7,267.9M489.5,233L513.3,264.4M489.5,233L525.4,266.8M489.5,233L506.5,272M489.5,233L508.8,271.4M489.5,233L509.9,273.2M489.5,233L510.5,275.6M489.5,233L524.8,280.9M489.5,233L525.4,282M489.5,233L528.8,279.7M489.5,233L518.5,274.3M489.5,233L517,269.5M489.5,233L513.7,270.1M489.5,233L525.3,273.8M489.5,233L524.5,272.7M489.5,233L521.2,272.4M489.5,233L512.1,276.2M489.5,233L522.3,274.2M489.5,233L513.4,268.6M489.5,233L520.2,267.6M489.5,233L518.8,281.2M489.5,233L514.2,267M489.5,233L516.8,270.7M489.5,233L522.5,272.7M489.5,233L514.6,265.8M489.5,233L515.2,272.7M489.5,233L518,262.7M489.5,233L521.6,278.8M489.5,233L513,276.1M489.5,233L524.1,276.8M489.5,233L516.8,263.8M489.5,233L527.3,274.6M489.5,233L513.4,278.7M489.5,233L519.5,260.8M489.5,233L519.9,277.2M489.5,233L515.3,280.6M489.5,233L521.7,275.1M489.5,233L521.7,277.9M489.5,233L514.6,268.9M489.5,233L516.2,276.8M489.5,233L525.3,268.7M489.5,233L511.5,270.5M489.5,233L523.9,265.4M489.5,233L522.7,264M489.5,233L516.1,274.9M489.5,233L526.2,276.3M489.5,233L520.7,274.6M489.5,233L518.5,272.9M489.5,233L515.9,269.1M489.5,233L513.6,272.7M489.5,233L517.9,275.1" stroke="#f46a5a" stroke-width="0.55" stroke-opacity="0.55" fill="none"/>
<g stroke="#2a3a3a" stroke-width="0.4">
<circle cx="304.5" cy="220" r="1.25" fill="#e65446"/>
<circle cx="320.1" cy="213.9" r="1.25" fill="#e65446"/>
<circle cx="317.6" cy="219.1" r="1.25" fill="#e65446"/>
<circle cx="323.3" cy="216.5" r="1.25" fill="#e65446"/>
<circle cx="325.2" cy="215.5" r="1.25" fill="#e65446"/>
<circle cx="318.6" cy="221.3" r="1.25" fill="#e65446"/>
<circle cx="334" cy="224.2" r="1.25" fill="#e65446"/>
<circle cx="305.8" cy="218.7" r="1.25" fill="#e65446"/>
<circle cx="307.4" cy="218.1" r="1.25" fill="#e65446"/>
<circle cx="311.6" cy="217.8" r="1.25" fill="#e65446"/>
<circle cx="315" cy="215.7" r="1.25" fill="#e65446"/>
<circle cx="318.8" cy="213.5" r="1.25" fill="#e65446"/>
<circle cx="318.3" cy="217.4" r="1.25" fill="#e65446"/>
<circle cx="324.7" cy="213.6" r="1.25" fill="#e65446"/>
<circle cx="331.7" cy="216" r="1.25" fill="#e65446"/>
<circle cx="334.8" cy="222.1" r="1.25" fill="#e65446"/>
<circle cx="345.5" cy="213.2" r="1.25" fill="#e65446"/>
<circle cx="322.5" cy="214.8" r="1.25" fill="#e65446"/>
<circle cx="463.5" cy="266.1" r="1.25" fill="#34bca8"/>
<circle cx="364" cy="225.7" r="1.25" fill="#34bca8"/>
<circle cx="395.1" cy="225.4" r="1.25" fill="#34bca8"/>
<circle cx="395.7" cy="223.3" r="1.25" fill="#34bca8"/>
<circle cx="364.7" cy="236.9" r="1.25" fill="#34bca8"/>
<circle cx="372.1" cy="237.3" r="1.25" fill="#34bca8"/>
<circle cx="376.6" cy="242.8" r="1.25" fill="#34bca8"/>
<circle cx="389.1" cy="244.5" r="1.25" fill="#34bca8"/>
<circle cx="397.1" cy="253.3" r="1.25" fill="#34bca8"/>
<circle cx="360.6" cy="223" r="1.25" fill="#34bca8"/>
<circle cx="390.8" cy="226.1" r="1.25" fill="#34bca8"/>
<circle cx="516.5" cy="130.3" r="1.25" fill="#34bca8"/>
<circle cx="519.3" cy="205.5" r="1.25" fill="#34bca8"/>
<circle cx="517.6" cy="237.9" r="1.25" fill="#34bca8"/>
<circle cx="505.2" cy="251.9" r="1.25" fill="#34bca8"/>
<circle cx="525.1" cy="219.5" r="1.25" fill="#34bca8"/>
<circle cx="511.1" cy="223.8" r="1.25" fill="#34bca8"/>
<circle cx="524.7" cy="241.8" r="1.25" fill="#34bca8"/>
<circle cx="492.6" cy="247.2" r="1.25" fill="#34bca8"/>
<circle cx="492.6" cy="258.2" r="1.25" fill="#34bca8"/>
<circle cx="500.4" cy="268.9" r="1.25" fill="#34bca8"/>
<circle cx="494.2" cy="271.7" r="1.25" fill="#34bca8"/>
<circle cx="483.2" cy="275.7" r="1.25" fill="#34bca8"/>
<circle cx="488.6" cy="275.8" r="1.25" fill="#34bca8"/>
<circle cx="493.4" cy="275.8" r="1.25" fill="#34bca8"/>
<circle cx="475.7" cy="279.4" r="1.25" fill="#34bca8"/>
<circle cx="507.9" cy="282.3" r="1.25" fill="#34bca8"/>
<circle cx="505.1" cy="273.8" r="1.25" fill="#34bca8"/>
<circle cx="518.4" cy="261.7" r="1.25" fill="#34bca8"/>
<circle cx="515.3" cy="255.3" r="1.25" fill="#34bca8"/>
<circle cx="525.5" cy="292.2" r="1.25" fill="#34bca8"/>
<circle cx="528.6" cy="293" r="1.25" fill="#34bca8"/>
<circle cx="527.1" cy="284.9" r="1.25" fill="#34bca8"/>
<circle cx="529.4" cy="285.4" r="1.25" fill="#34bca8"/>
<circle cx="530.2" cy="288.1" r="1.25" fill="#34bca8"/>
<circle cx="504.2" cy="254.5" r="1.25" fill="#34bca8"/>
<circle cx="512.3" cy="254.5" r="1.25" fill="#34bca8"/>
<circle cx="520.3" cy="265" r="1.25" fill="#34bca8"/>
<circle cx="501.4" cy="268.5" r="1.25" fill="#34bca8"/>
<circle cx="505.4" cy="269.7" r="1.25" fill="#34bca8"/>
<circle cx="521.4" cy="270.9" r="1.25" fill="#34bca8"/>
<circle cx="516.3" cy="273.2" r="1.25" fill="#34bca8"/>
<circle cx="511.7" cy="278.5" r="1.25" fill="#34bca8"/>
<circle cx="524.8" cy="276.2" r="1.25" fill="#34bca8"/>
<circle cx="519.1" cy="279.1" r="1.25" fill="#34bca8"/>
<circle cx="519.7" cy="283.2" r="1.25" fill="#34bca8"/>
<circle cx="498.8" cy="260.1" r="1.25" fill="#34bca8"/>
<circle cx="499.6" cy="264.1" r="1.25" fill="#34bca8"/>
<circle cx="507.1" cy="262" r="1.25" fill="#34bca8"/>
<circle cx="514.5" cy="263.2" r="1.25" fill="#34bca8"/>
<circle cx="516.3" cy="262.6" r="1.25" fill="#34bca8"/>
<circle cx="520.3" cy="271" r="1.25" fill="#34bca8"/>
<circle cx="516.6" cy="266.6" r="1.25" fill="#34bca8"/>
<circle cx="521.3" cy="259.6" r="1.25" fill="#34bca8"/>
<circle cx="511.9" cy="272.7" r="1.25" fill="#34bca8"/>
<circle cx="519.2" cy="267" r="1.25" fill="#34bca8"/>
<circle cx="519.6" cy="268.7" r="1.25" fill="#34bca8"/>
<circle cx="531.8" cy="273.9" r="1.25" fill="#34bca8"/>
<circle cx="518.1" cy="271.4" r="1.25" fill="#34bca8"/>
<circle cx="451.3" cy="207.8" r="1.25" fill="#e65446"/>
<circle cx="441.7" cy="212" r="1.25" fill="#e65446"/>
<circle cx="441.1" cy="218.2" r="1.25" fill="#e65446"/>
<circle cx="442.2" cy="218.9" r="1.25" fill="#e65446"/>
<circle cx="441.1" cy="222.6" r="1.25" fill="#e65446"/>
<circle cx="442" cy="223.8" r="1.25" fill="#e65446"/>
<circle cx="444.1" cy="216.4" r="1.25" fill="#e65446"/>
<circle cx="445.3" cy="217" r="1.25" fill="#e65446"/>
<circle cx="445.8" cy="220.1" r="1.25" fill="#e65446"/>
<circle cx="446.8" cy="221.3" r="1.25" fill="#e65446"/>
<circle cx="444.1" cy="224.4" r="1.25" fill="#e65446"/>
<circle cx="445.3" cy="223.8" r="1.25" fill="#e65446"/>
<circle cx="448.3" cy="225.7" r="1.25" fill="#e65446"/>
<circle cx="451.7" cy="222.8" r="1.25" fill="#e65446"/>
<circle cx="455.2" cy="222.6" r="1.25" fill="#e65446"/>
<circle cx="443.2" cy="231" r="1.25" fill="#e65446"/>
<circle cx="457.9" cy="227.5" r="1.25" fill="#e65446"/>
<circle cx="462.1" cy="231.9" r="1.25" fill="#e65446"/>
<circle cx="461.5" cy="233.1" r="1.25" fill="#e65446"/>
<circle cx="468.8" cy="238.3" r="1.25" fill="#e65446"/>
<circle cx="459.8" cy="242.3" r="1.25" fill="#e65446"/>
<circle cx="471" cy="230" r="1.25" fill="#e65446"/>
<circle cx="442.8" cy="220" r="1.25" fill="#e65446"/>
<circle cx="440.2" cy="216.5" r="1.25" fill="#e65446"/>
<circle cx="516.8" cy="156.2" r="1.25" fill="#e65446"/>
<circle cx="507.2" cy="161.2" r="1.25" fill="#e65446"/>
<circle cx="503.2" cy="163.8" r="1.25" fill="#e65446"/>
<circle cx="518.8" cy="123" r="1.25" fill="#e65446"/>
<circle cx="520" cy="123.4" r="1.25" fill="#e65446"/>
<circle cx="521.1" cy="124.6" r="1.25" fill="#e65446"/>
<circle cx="521.5" cy="125.9" r="1.25" fill="#e65446"/>
<circle cx="520.7" cy="126.7" r="1.25" fill="#e65446"/>
<circle cx="522.3" cy="127.1" r="1.25" fill="#e65446"/>
<circle cx="520.4" cy="128.3" r="1.25" fill="#e65446"/>
<circle cx="518.4" cy="133.5" r="1.25" fill="#e65446"/>
<circle cx="520" cy="135" r="1.25" fill="#e65446"/>
<circle cx="518.8" cy="135.4" r="1.25" fill="#e65446"/>
<circle cx="520.7" cy="136.6" r="1.25" fill="#e65446"/>
<circle cx="517.6" cy="138.6" r="1.25" fill="#e65446"/>
<circle cx="520.4" cy="139.4" r="1.25" fill="#e65446"/>
<circle cx="512.9" cy="141.1" r="1.25" fill="#e65446"/>
<circle cx="516.5" cy="141.5" r="1.25" fill="#e65446"/>
<circle cx="518.4" cy="141.1" r="1.25" fill="#e65446"/>
<circle cx="516.3" cy="146.3" r="1.25" fill="#e65446"/>
<circle cx="514" cy="149.5" r="1.25" fill="#e65446"/>
<circle cx="520.4" cy="150.4" r="1.25" fill="#e65446"/>
<circle cx="517.6" cy="153.7" r="1.25" fill="#e65446"/>
<circle cx="521.2" cy="153.2" r="1.25" fill="#e65446"/>
<circle cx="525.3" cy="154.9" r="1.25" fill="#e65446"/>
<circle cx="521.2" cy="162.4" r="1.25" fill="#e65446"/>
<circle cx="505.5" cy="166.1" r="1.25" fill="#e65446"/>
<circle cx="518.1" cy="165.9" r="1.25" fill="#e65446"/>
<circle cx="523.2" cy="186.5" r="1.25" fill="#e65446"/>
<circle cx="517.3" cy="193.6" r="1.25" fill="#e65446"/>
<circle cx="522.9" cy="196.7" r="1.25" fill="#e65446"/>
<circle cx="517.8" cy="203.9" r="1.25" fill="#e65446"/>
<circle cx="520.1" cy="208.3" r="1.25" fill="#e65446"/>
<circle cx="517.8" cy="131.4" r="1.25" fill="#e65446"/>
<circle cx="520.3" cy="129.4" r="1.25" fill="#e65446"/>
<circle cx="514.9" cy="154.8" r="1.25" fill="#e65446"/>
<circle cx="508.9" cy="245.7" r="1.25" fill="#e65446"/>
<circle cx="516.9" cy="214" r="1.25" fill="#e65446"/>
<circle cx="512.7" cy="227.2" r="1.25" fill="#e65446"/>
<circle cx="514.1" cy="228" r="1.25" fill="#e65446"/>
<circle cx="513.4" cy="230" r="1.25" fill="#e65446"/>
<circle cx="471.9" cy="229.5" r="1.25" fill="#e65446"/>
<circle cx="481.5" cy="230.6" r="1.25" fill="#e65446"/>
<circle cx="527.8" cy="238.7" r="1.25" fill="#e65446"/>
<circle cx="484" cy="242.6" r="1.25" fill="#e65446"/>
<circle cx="492" cy="239.8" r="1.25" fill="#e65446"/>
<circle cx="493.1" cy="241" r="1.25" fill="#e65446"/>
<circle cx="496.8" cy="241.8" r="1.25" fill="#e65446"/>
<circle cx="503.6" cy="241.5" r="1.25" fill="#e65446"/>
<circle cx="513.9" cy="244.1" r="1.25" fill="#e65446"/>
<circle cx="513" cy="245.7" r="1.25" fill="#e65446"/>
<circle cx="514.4" cy="246.4" r="1.25" fill="#e65446"/>
<circle cx="511.5" cy="247.4" r="1.25" fill="#e65446"/>
<circle cx="513" cy="248.9" r="1.25" fill="#e65446"/>
<circle cx="514.9" cy="248.9" r="1.25" fill="#e65446"/>
<circle cx="497.6" cy="248.8" r="1.25" fill="#e65446"/>
<circle cx="493.9" cy="253.1" r="1.25" fill="#e65446"/>
<circle cx="511.9" cy="251.9" r="1.25" fill="#e65446"/>
<circle cx="494.2" cy="254.5" r="1.25" fill="#e65446"/>
<circle cx="489.4" cy="263" r="1.25" fill="#e65446"/>
<circle cx="490.2" cy="265.7" r="1.25" fill="#e65446"/>
<circle cx="504.3" cy="277.8" r="1.25" fill="#e65446"/>
<circle cx="516.1" cy="282.3" r="1.25" fill="#e65446"/>
<circle cx="531.8" cy="287.3" r="1.25" fill="#e65446"/>
<circle cx="533.3" cy="281" r="1.25" fill="#e65446"/>
<circle cx="503.1" cy="255.7" r="1.25" fill="#e65446"/>
<circle cx="506.5" cy="256.3" r="1.25" fill="#e65446"/>
<circle cx="508.2" cy="256.8" r="1.25" fill="#e65446"/>
<circle cx="518.5" cy="256.3" r="1.25" fill="#e65446"/>
<circle cx="504.8" cy="261.4" r="1.25" fill="#e65446"/>
<circle cx="504.2" cy="266.2" r="1.25" fill="#e65446"/>
<circle cx="507.7" cy="267.9" r="1.25" fill="#e65446"/>
<circle cx="513.3" cy="264.4" r="1.25" fill="#e65446"/>
<circle cx="525.4" cy="266.8" r="1.25" fill="#e65446"/>
<circle cx="506.5" cy="272" r="1.25" fill="#e65446"/>
<circle cx="508.8" cy="271.4" r="1.25" fill="#e65446"/>
<circle cx="509.9" cy="273.2" r="1.25" fill="#e65446"/>
<circle cx="510.5" cy="275.6" r="1.25" fill="#e65446"/>
<circle cx="524.8" cy="280.9" r="1.25" fill="#e65446"/>
<circle cx="525.4" cy="282" r="1.25" fill="#e65446"/>
<circle cx="528.8" cy="279.7" r="1.25" fill="#e65446"/>
<circle cx="518.5" cy="274.3" r="1.25" fill="#e65446"/>
<circle cx="517" cy="269.5" r="1.25" fill="#e65446"/>
<circle cx="513.7" cy="270.1" r="1.25" fill="#e65446"/>
<circle cx="525.3" cy="273.8" r="1.25" fill="#e65446"/>
<circle cx="524.5" cy="272.7" r="1.25" fill="#e65446"/>
<circle cx="521.2" cy="272.4" r="1.25" fill="#e65446"/>
<circle cx="512.1" cy="276.2" r="1.25" fill="#e65446"/>
<circle cx="522.3" cy="274.2" r="1.25" fill="#e65446"/>
<circle cx="513.4" cy="268.6" r="1.25" fill="#e65446"/>
<circle cx="520.2" cy="267.6" r="1.25" fill="#e65446"/>
<circle cx="518.8" cy="281.2" r="1.25" fill="#e65446"/>
<circle cx="514.2" cy="267" r="1.25" fill="#e65446"/>
<circle cx="516.8" cy="270.7" r="1.25" fill="#e65446"/>
<circle cx="522.5" cy="272.7" r="1.25" fill="#e65446"/>
<circle cx="514.6" cy="265.8" r="1.25" fill="#e65446"/>
<circle cx="515.2" cy="272.7" r="1.25" fill="#e65446"/>
<circle cx="518" cy="262.7" r="1.25" fill="#e65446"/>
<circle cx="521.6" cy="278.8" r="1.25" fill="#e65446"/>
<circle cx="513" cy="276.1" r="1.25" fill="#e65446"/>
<circle cx="524.1" cy="276.8" r="1.25" fill="#e65446"/>
<circle cx="516.8" cy="263.8" r="1.25" fill="#e65446"/>
<circle cx="527.3" cy="274.6" r="1.25" fill="#e65446"/>
<circle cx="513.4" cy="278.7" r="1.25" fill="#e65446"/>
<circle cx="519.5" cy="260.8" r="1.25" fill="#e65446"/>
<circle cx="519.9" cy="277.2" r="1.25" fill="#e65446"/>
<circle cx="515.3" cy="280.6" r="1.25" fill="#e65446"/>
<circle cx="521.7" cy="275.1" r="1.25" fill="#e65446"/>
<circle cx="521.7" cy="277.9" r="1.25" fill="#e65446"/>
<circle cx="514.6" cy="268.9" r="1.25" fill="#e65446"/>
<circle cx="516.2" cy="276.8" r="1.25" fill="#e65446"/>
<circle cx="525.3" cy="268.7" r="1.25" fill="#e65446"/>
<circle cx="511.5" cy="270.5" r="1.25" fill="#e65446"/>
<circle cx="523.9" cy="265.4" r="1.25" fill="#e65446"/>
<circle cx="522.7" cy="264" r="1.25" fill="#e65446"/>
<circle cx="516.1" cy="274.9" r="1.25" fill="#e65446"/>
<circle cx="526.2" cy="276.3" r="1.25" fill="#e65446"/>
<circle cx="520.7" cy="274.6" r="1.25" fill="#e65446"/>
<circle cx="518.5" cy="272.9" r="1.25" fill="#e65446"/>
<circle cx="515.9" cy="269.1" r="1.25" fill="#e65446"/>
<circle cx="513.6" cy="272.7" r="1.25" fill="#e65446"/>
<circle cx="517.9" cy="275.1" r="1.25" fill="#e65446"/>
<circle cx="416.3" cy="218.9" r="1.25" fill="#c6e6b4"/>
<circle cx="419.5" cy="218" r="1.25" fill="#c6e6b4"/>
<circle cx="447.7" cy="222.8" r="1.25" fill="#c6e6b4"/>
<circle cx="503.6" cy="223.6" r="1.25" fill="#c6e6b4"/>
<circle cx="441.7" cy="213.9" r="1.25" fill="#c6e6b4"/>
<circle cx="441.7" cy="220.7" r="1.25" fill="#c6e6b4"/>
<circle cx="447.1" cy="219.5" r="1.25" fill="#c6e6b4"/>
<circle cx="514.4" cy="141.5" r="1.25" fill="#c6e6b4"/>
<circle cx="519" cy="158.3" r="1.25" fill="#c6e6b4"/>
<circle cx="524.7" cy="234.1" r="1.25" fill="#c6e6b4"/>
<circle cx="313.8" cy="216.1" r="1.25" fill="#eeee8c"/>
<circle cx="315.4" cy="219.1" r="1.25" fill="#eeee8c"/>
<circle cx="321" cy="213.6" r="1.25" fill="#eeee8c"/>
<circle cx="340.1" cy="210" r="1.25" fill="#eeee8c"/>
<circle cx="340.5" cy="211.8" r="1.25" fill="#eeee8c"/>
<circle cx="345.2" cy="210.8" r="1.25" fill="#eeee8c"/>
<circle cx="444.7" cy="219.5" r="1.25" fill="#eeee8c"/>
<circle cx="446.8" cy="217" r="1.25" fill="#eeee8c"/>
<circle cx="517.6" cy="158.3" r="1.25" fill="#eeee8c"/>
<circle cx="519.6" cy="137" r="1.25" fill="#eeee8c"/>
<circle cx="516.3" cy="140.2" r="1.25" fill="#eeee8c"/>
<circle cx="511.3" cy="145.3" r="1.25" fill="#eeee8c"/>
<circle cx="520.8" cy="146.3" r="1.25" fill="#eeee8c"/>
<circle cx="523.1" cy="174.7" r="1.25" fill="#eeee8c"/>
<circle cx="519.8" cy="144.8" r="1.25" fill="#eeee8c"/>
<circle cx="517.6" cy="216.1" r="1.25" fill="#eeee8c"/>
<circle cx="489" cy="233.1" r="1.25" fill="#eeee8c"/>
<circle cx="496.8" cy="243.4" r="1.25" fill="#eeee8c"/>
<circle cx="488.6" cy="277.5" r="1.25" fill="#eeee8c"/>
<circle cx="527.2" cy="272.6" r="1.25" fill="#eeee8c"/>
<circle cx="513.7" cy="282.3" r="1.25" fill="#eeee8c"/>
<circle cx="521.1" cy="273.6" r="1.25" fill="#eeee8c"/>
<circle cx="524" cy="278.2" r="1.25" fill="#eeee8c"/>
<circle cx="523.8" cy="274.6" r="1.25" fill="#eeee8c"/>
<circle cx="529.6" cy="273.2" r="1.25" fill="#eeee8c"/>
<circle cx="327" cy="211.7" r="1.25" fill="#e6e6e6"/>
<circle cx="328.5" cy="212.2" r="1.25" fill="#e6e6e6"/>
<circle cx="312.1" cy="219.6" r="1.25" fill="#e6e6e6"/>
<circle cx="328" cy="213.6" r="1.25" fill="#e6e6e6"/>
<circle cx="512.7" cy="149" r="1.25" fill="#e6e6e6"/>
<circle cx="517.2" cy="151.4" r="1.25" fill="#e6e6e6"/>
<circle cx="514.3" cy="159" r="1.25" fill="#e6e6e6"/>
<circle cx="502.5" cy="238.7" r="1.25" fill="#e6e6e6"/>
<circle cx="325.2" cy="212.7" r="1.25" fill="#7cd040"/>
<circle cx="516.9" cy="127.5" r="1.25" fill="#7cd040"/>
<circle cx="521.5" cy="140.2" r="1.25" fill="#7cd040"/>
<circle cx="522.3" cy="141.9" r="1.25" fill="#7cd040"/>
<circle cx="523.6" cy="142.5" r="1.25" fill="#7cd040"/>
<circle cx="518.1" cy="161.5" r="1.25" fill="#7cd040"/>
<circle cx="515.9" cy="163.2" r="1.25" fill="#7cd040"/>
<circle cx="501" cy="186.5" r="1.25" fill="#7cd040"/>
<circle cx="521.5" cy="195.4" r="1.25" fill="#7cd040"/>
<circle cx="516.5" cy="234.1" r="1.25" fill="#7cd040"/>
<circle cx="520.9" cy="244.1" r="1.25" fill="#7cd040"/>
<circle cx="522.7" cy="124.5" r="1.25" fill="#f0c0e4"/>
<circle cx="517.2" cy="143.5" r="1.25" fill="#f0c0e4"/>
<circle cx="515.4" cy="150.4" r="1.25" fill="#f0c0e4"/>
<circle cx="339.1" cy="208.1" r="1.25" fill="#c864c8"/>
<circle cx="521.9" cy="130.7" r="1.25" fill="#c864c8"/>
<circle cx="519.2" cy="132.3" r="1.25" fill="#c864c8"/>
<circle cx="518" cy="136.6" r="1.25" fill="#c864c8"/>
<circle cx="515.9" cy="143" r="1.25" fill="#c864c8"/>
<circle cx="517.6" cy="147.2" r="1.25" fill="#c864c8"/>
<circle cx="519.3" cy="125.4" r="1.25" fill="#c864c8"/>
<circle cx="518.3" cy="149.3" r="1.25" fill="#c864c8"/>
<circle cx="383.4" cy="208.7" r="1.25" fill="#4a94c8"/>
<circle cx="449.3" cy="228.1" r="1.25" fill="#4a94c8"/>
<circle cx="521.3" cy="133.9" r="1.25" fill="#4a94c8"/>
<circle cx="519.2" cy="139" r="1.25" fill="#4a94c8"/>
<circle cx="512.2" cy="153.2" r="1.25" fill="#4a94c8"/>
<circle cx="523.6" cy="155.5" r="1.25" fill="#4a94c8"/>
<circle cx="507.7" cy="156.2" r="1.25" fill="#4a94c8"/>
<circle cx="515.9" cy="179.3" r="1.25" fill="#4a94c8"/>
<circle cx="519.8" cy="186.5" r="1.25" fill="#4a94c8"/>
<circle cx="520.6" cy="194.4" r="1.25" fill="#4a94c8"/>
<circle cx="520.1" cy="206.3" r="1.25" fill="#4a94c8"/>
<circle cx="514.4" cy="208.3" r="1.25" fill="#4a94c8"/>
<circle cx="520.2" cy="209.4" r="1.25" fill="#4a94c8"/>
<circle cx="519.1" cy="228.4" r="1.25" fill="#4a94c8"/>
<circle cx="526.2" cy="235.6" r="1.25" fill="#4a94c8"/>
<circle cx="527" cy="237.2" r="1.25" fill="#4a94c8"/>
<circle cx="505.8" cy="236.4" r="1.25" fill="#4a94c8"/>
<circle cx="484.5" cy="239.8" r="1.25" fill="#4a94c8"/>
<circle cx="505.8" cy="242.6" r="1.25" fill="#4a94c8"/>
<circle cx="513.1" cy="240.6" r="1.25" fill="#4a94c8"/>
<circle cx="527" cy="241" r="1.25" fill="#4a94c8"/>
<circle cx="493.5" cy="245.7" r="1.25" fill="#4a94c8"/>
<circle cx="508.2" cy="262" r="1.25" fill="#4a94c8"/>
<circle cx="503.6" cy="265" r="1.25" fill="#4a94c8"/>
<circle cx="515.1" cy="276.9" r="1.25" fill="#4a94c8"/>
<circle cx="524.1" cy="271.5" r="1.25" fill="#4a94c8"/>
<circle cx="304.6" cy="218.3" r="1.25" fill="#f5a524"/>
<circle cx="307.8" cy="220" r="1.25" fill="#f5a524"/>
<circle cx="309.1" cy="220" r="1.25" fill="#f5a524"/>
<circle cx="319.5" cy="214.6" r="1.25" fill="#f5a524"/>
<circle cx="327" cy="224.7" r="1.25" fill="#f5a524"/>
<circle cx="336" cy="227.1" r="1.25" fill="#f5a524"/>
<circle cx="306.2" cy="216.1" r="1.25" fill="#34bca8"/>
<circle cx="306.6" cy="220.9" r="1.25" fill="#34bca8"/>
<circle cx="305.8" cy="222.2" r="1.25" fill="#34bca8"/>
<circle cx="307.4" cy="222.6" r="1.25" fill="#34bca8"/>
<circle cx="309.6" cy="221.7" r="1.25" fill="#34bca8"/>
<circle cx="308.7" cy="223.9" r="1.25" fill="#34bca8"/>
<circle cx="310.4" cy="224.3" r="1.25" fill="#34bca8"/>
<circle cx="312.1" cy="221.3" r="1.25" fill="#34bca8"/>
<circle cx="313.4" cy="221.3" r="1.25" fill="#34bca8"/>
<circle cx="318.3" cy="214.4" r="1.25" fill="#34bca8"/>
<circle cx="316.7" cy="221.3" r="1.25" fill="#34bca8"/>
<circle cx="318" cy="222.2" r="1.25" fill="#34bca8"/>
<circle cx="312.1" cy="224.3" r="1.25" fill="#34bca8"/>
<circle cx="312.9" cy="225.6" r="1.25" fill="#34bca8"/>
<circle cx="314.2" cy="226.5" r="1.25" fill="#34bca8"/>
<circle cx="315" cy="227.3" r="1.25" fill="#34bca8"/>
<circle cx="315.9" cy="228.2" r="1.25" fill="#34bca8"/>
<circle cx="316.7" cy="229.1" r="1.25" fill="#34bca8"/>
<circle cx="314.2" cy="229.1" r="1.25" fill="#34bca8"/>
<circle cx="315.4" cy="230" r="1.25" fill="#34bca8"/>
<circle cx="316.7" cy="230.6" r="1.25" fill="#34bca8"/>
<circle cx="313.4" cy="227.8" r="1.25" fill="#34bca8"/>
<circle cx="318.8" cy="226.9" r="1.25" fill="#34bca8"/>
<circle cx="318.8" cy="228.6" r="1.25" fill="#34bca8"/>
<circle cx="317.6" cy="225.2" r="1.25" fill="#34bca8"/>
<circle cx="320" cy="217" r="1.25" fill="#34bca8"/>
<circle cx="325.7" cy="219.9" r="1.25" fill="#34bca8"/>
<circle cx="334.5" cy="214.1" r="1.25" fill="#34bca8"/>
<circle cx="320.5" cy="220.8" r="1.25" fill="#34bca8"/>
<circle cx="322.3" cy="221.8" r="1.25" fill="#34bca8"/>
<circle cx="333.2" cy="223.7" r="1.25" fill="#34bca8"/>
<circle cx="326.1" cy="224.2" r="1.25" fill="#34bca8"/>
<circle cx="319" cy="224.7" r="1.25" fill="#34bca8"/>
<circle cx="321.4" cy="225.6" r="1.25" fill="#34bca8"/>
<circle cx="322.8" cy="228" r="1.25" fill="#34bca8"/>
<circle cx="324.2" cy="228.5" r="1.25" fill="#34bca8"/>
<circle cx="325.2" cy="230" r="1.25" fill="#34bca8"/>
<circle cx="328.5" cy="228" r="1.25" fill="#34bca8"/>
<circle cx="334.5" cy="227.1" r="1.25" fill="#34bca8"/>
<circle cx="329.8" cy="231.4" r="1.25" fill="#34bca8"/>
<circle cx="329.4" cy="232.4" r="1.25" fill="#34bca8"/>
<circle cx="339.8" cy="229.6" r="1.25" fill="#34bca8"/>
<circle cx="330.3" cy="232.6" r="1.25" fill="#34bca8"/>
<circle cx="314.7" cy="222.5" r="1.25" fill="#34bca8"/>
<circle cx="323" cy="223.5" r="1.25" fill="#34bca8"/>
<circle cx="328.9" cy="221.5" r="1.25" fill="#34bca8"/>
<circle cx="324" cy="225.8" r="1.25" fill="#34bca8"/>
<circle cx="321.6" cy="230.5" r="1.25" fill="#34bca8"/>
<circle cx="331.8" cy="226.5" r="1.25" fill="#34bca8"/>
<circle cx="309.9" cy="226" r="1.25" fill="#34bca8"/>
<circle cx="303.8" cy="221.4" r="1.25" fill="#34bca8"/>
<circle cx="339.8" cy="249.5" r="1.25" fill="#34bca8"/>
<circle cx="312.9" cy="217.8" r="1.25" fill="#c4bce4"/>
<circle cx="317.2" cy="215.7" r="1.25" fill="#c4bce4"/>
<circle cx="321.4" cy="216" r="1.25" fill="#c4bce4"/>
<circle cx="326.5" cy="216.5" r="1.25" fill="#c4bce4"/>
<circle cx="327.5" cy="218.4" r="1.25" fill="#c4bce4"/>
<circle cx="323.8" cy="219.4" r="1.25" fill="#c4bce4"/>
<circle cx="331.2" cy="213.6" r="1.25" fill="#c4bce4"/>
<circle cx="332.2" cy="218.4" r="1.25" fill="#c4bce4"/>
<circle cx="321.9" cy="217.9" r="1.25" fill="#c4bce4"/>
<circle cx="309.4" cy="217.2" r="1.25" fill="#c4bce4"/>
<circle cx="397.8" cy="201.1" r="1.25" fill="#c4bce4"/>
<circle cx="419.3" cy="214.5" r="1.25" fill="#c4bce4"/>
<circle cx="522.7" cy="129.9" r="1.25" fill="#c4bce4"/>
<circle cx="514.9" cy="136" r="1.25" fill="#c4bce4"/>
</g>
<rect x="309.6" y="214" width="10.4" height="5" rx="0.8" fill="#f5a524" stroke="#3a4a4a" stroke-width="0.45"/>
<text x="314.8" y="217.9" text-anchor="middle" font-size="3.9" fill="#1e2e2e" textLength="8.2" lengthAdjust="spacingAndGlyphs">BRA</text>
<rect x="350.5" y="210.5" width="13.6" height="5.4" rx="0.8" fill="#c4bce4" stroke="#3a4a4a" stroke-width="0.45"/>
<text x="357.3" y="214.6" text-anchor="middle" font-size="3.9" fill="#1e2e2e" textLength="11.4" lengthAdjust="spacingAndGlyphs">PERU</text>
<rect x="345.1" y="228.8" width="14.4" height="5.4" rx="0.8" fill="#44ccb4" stroke="#3a4a4a" stroke-width="0.45"/>
<text x="352.3" y="232.9" text-anchor="middle" font-size="3.9" fill="#1e2e2e" textLength="12.2" lengthAdjust="spacingAndGlyphs">CHILE</text>
<rect x="422.3" y="215.6" width="16.4" height="5" rx="0.8" fill="#c6e6b4" stroke="#3a4a4a" stroke-width="0.45"/>
<text x="430.5" y="219.5" text-anchor="middle" font-size="3.9" fill="#1e2e2e" textLength="14.2" lengthAdjust="spacingAndGlyphs">OTHER</text>
<rect x="431" y="198.9" width="9.2" height="5.6" rx="0.8" fill="#eeee8c" stroke="#3a4a4a" stroke-width="0.45"/>
<text x="435.6" y="203.1" text-anchor="middle" font-size="3.9" fill="#1e2e2e" textLength="7" lengthAdjust="spacingAndGlyphs">CO</text>
<rect x="474.2" y="163.6" width="8.8" height="5.4" rx="0.8" fill="#c864c8" stroke="#3a4a4a" stroke-width="0.45"/>
<text x="478.6" y="167.7" text-anchor="middle" font-size="3.9" fill="#f4dcf4" textLength="6.6" lengthAdjust="spacingAndGlyphs">OR</text>
<rect x="471.5" y="171.8" width="9" height="5.4" rx="0.8" fill="#e6e6e6" stroke="#3a4a4a" stroke-width="0.45"/>
<text x="476" y="175.9" text-anchor="middle" font-size="3.9" fill="#1e2e2e" textLength="6.8" lengthAdjust="spacingAndGlyphs">HO</text>
<rect x="484.8" y="170.9" width="8" height="5.6" rx="0.8" fill="#7cd040" stroke="#3a4a4a" stroke-width="0.45"/>
<text x="488.8" y="175.1" text-anchor="middle" font-size="3.9" fill="#1e2e2e" textLength="5.8" lengthAdjust="spacingAndGlyphs">ES</text>
<rect x="501.7" y="150.6" width="5.8" height="4.8" rx="0.8" fill="#f0c0e4" stroke="#3a4a4a" stroke-width="0.45"/>
<text x="504.6" y="154.4" text-anchor="middle" font-size="3.9" fill="#1e2e2e" textLength="3.6" lengthAdjust="spacingAndGlyphs">M</text>
<rect x="483.2" y="205.6" width="9.2" height="5.6" rx="0.8" fill="#4a94c8" stroke="#3a4a4a" stroke-width="0.45"/>
<text x="487.8" y="209.8" text-anchor="middle" font-size="3.9" fill="#dceaf6" textLength="7" lengthAdjust="spacingAndGlyphs">EQ</text>
<rect x="485.4" y="230.6" width="8.2" height="4.8" rx="0.8" fill="#f05a4c" stroke="#3a4a4a" stroke-width="0.45"/>
<text x="489.5" y="234.4" text-anchor="middle" font-size="3.9" fill="#fbe0dc" textLength="6" lengthAdjust="spacingAndGlyphs">BO</text></svg>
</body></html>
